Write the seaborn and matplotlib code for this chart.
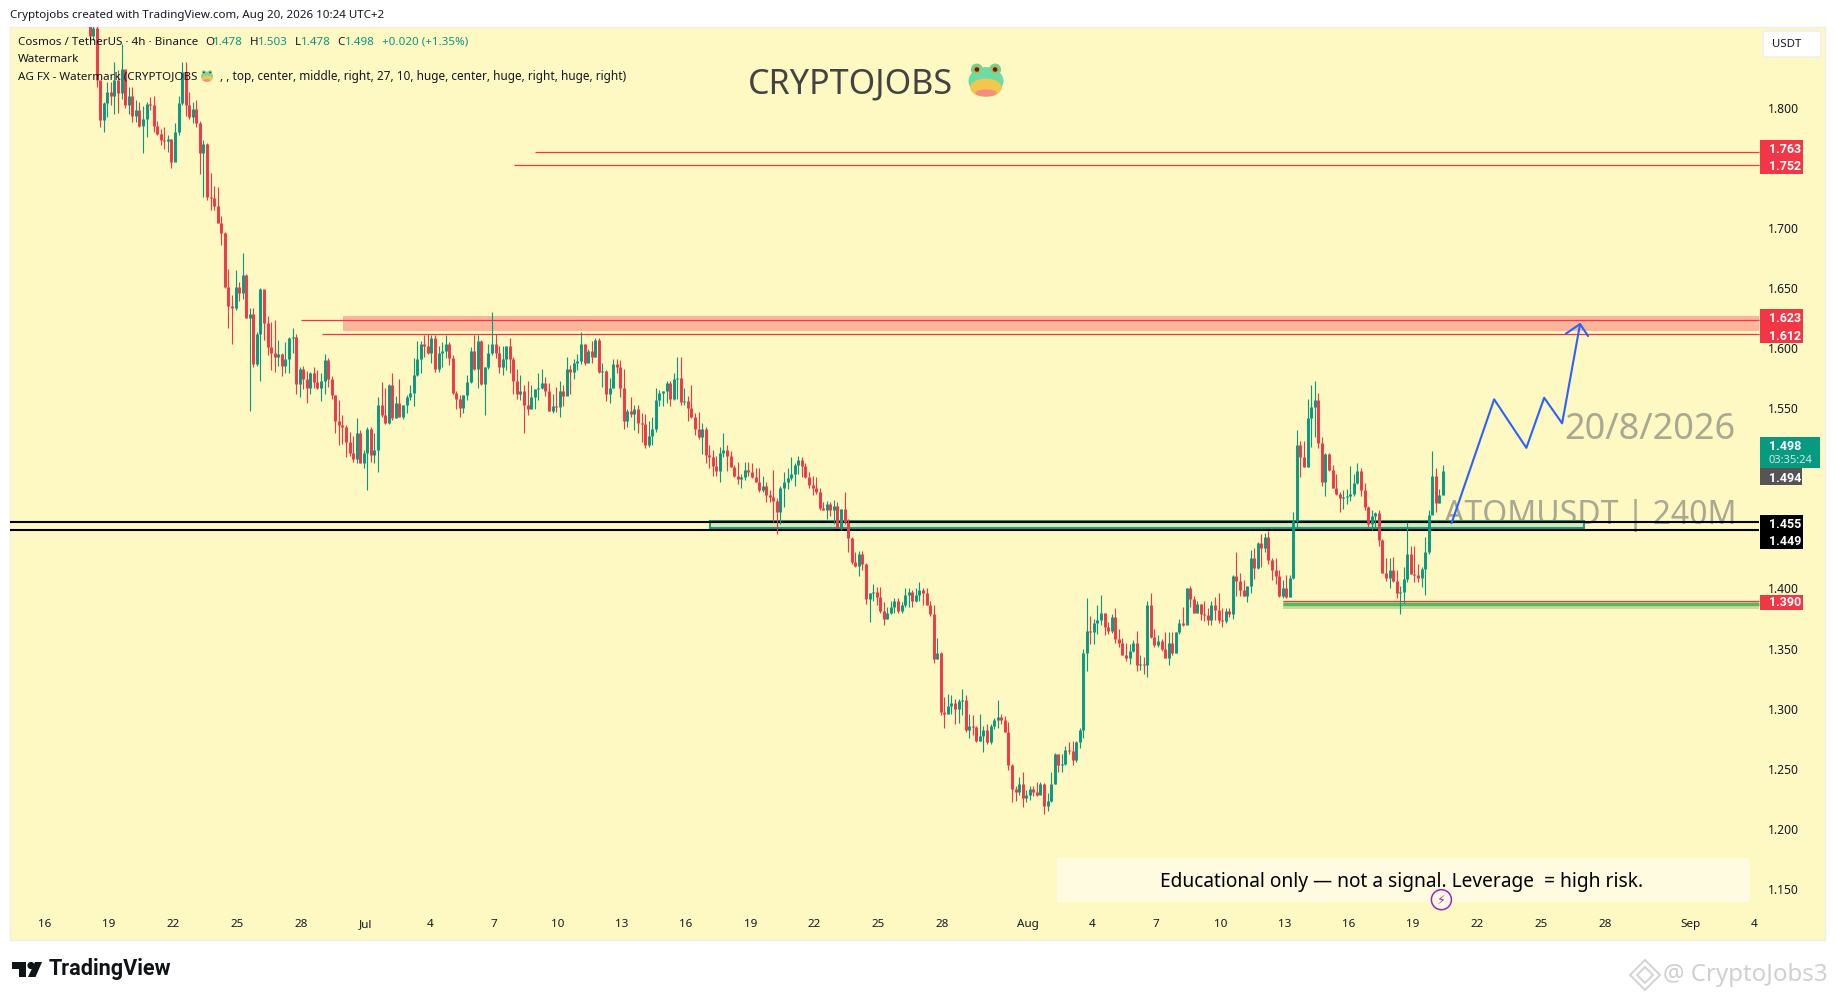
import pandas as pd
import matplotlib
matplotlib.use('Agg')
import matplotlib.pyplot as plt
import matplotlib.dates as mdates
from matplotlib.patches import Rectangle, Circle, Ellipse, Polygon, FancyBboxPatch
from matplotlib.transforms import Affine2D
import seaborn as sns

# =============================================================================
# Data (4h candles, each opens at the previous close)
# =============================================================================
first_open = 1.875
last_bar = '2026-08-20 10:00'

closes = [1.860,1.866,1.823,1.790,1.804,1.813,1.810,1.823,1.812,1.832,
          1.802,1.810,1.793,1.798,1.785,1.791,1.803,1.802,1.785,1.778,
          1.773,1.772,1.774,1.755,1.780,1.804,1.830,1.802,1.792,1.799,
          1.787,1.762,1.770,1.726,1.725,1.718,1.704,1.696,1.651,1.635,
          1.633,1.651,1.646,1.661,1.625,1.628,1.587,1.612,1.649,1.621,
          1.601,1.596,1.593,1.595,1.585,1.591,1.608,1.609,1.570,1.583,
          1.574,1.567,1.579,1.572,1.567,1.573,1.590,1.574,1.561,1.539,
          1.536,1.534,1.522,1.513,1.508,1.529,1.504,1.513,1.533,1.511,
          1.515,1.553,1.544,1.538,1.569,1.542,1.554,1.543,1.553,1.559,
          1.563,1.578,1.591,1.603,1.602,1.596,1.608,1.583,1.596,1.598,
          1.603,1.592,1.563,1.558,1.550,1.561,1.572,1.598,1.583,1.606,
          1.570,1.584,1.596,1.603,1.596,1.584,1.591,1.602,1.591,1.573,
          1.562,1.564,1.553,1.549,1.559,1.566,1.567,1.571,1.564,1.548,
          1.552,1.551,1.564,1.560,1.583,1.580,1.588,1.589,1.603,1.588,
          1.598,1.593,1.607,1.580,1.581,1.562,1.567,1.587,1.584,1.567,
          1.539,1.548,1.545,1.549,1.538,1.537,1.519,1.527,1.533,1.557,
          1.563,1.564,1.571,1.558,1.574,1.575,1.555,1.556,1.550,1.543,
          1.533,1.526,1.533,1.511,1.509,1.502,1.498,1.513,1.515,1.510,
          1.501,1.494,1.491,1.493,1.499,1.497,1.493,1.489,1.482,1.485,
          1.478,1.476,1.473,1.464,1.484,1.489,1.492,1.495,1.503,1.507,
          1.502,1.493,1.486,1.484,1.480,1.467,1.465,1.470,1.465,1.469,
          1.450,1.466,1.455,1.442,1.422,1.419,1.429,1.420,1.391,1.396,
          1.397,1.393,1.381,1.375,1.380,1.385,1.390,1.381,1.386,1.395,
          1.397,1.390,1.395,1.399,1.396,1.386,1.379,1.341,1.346,1.297,
          1.296,1.302,1.305,1.300,1.306,1.307,1.282,1.286,1.285,1.273,
          1.277,1.282,1.272,1.286,1.291,1.293,1.291,1.281,1.253,1.233,
          1.231,1.237,1.226,1.228,1.233,1.231,1.228,1.237,1.219,1.223,
          1.237,1.262,1.253,1.254,1.266,1.265,1.257,1.272,1.282,1.346,
          1.365,1.364,1.371,1.374,1.380,1.368,1.365,1.376,1.358,1.355,
          1.345,1.342,1.348,1.355,1.336,1.337,1.336,1.386,1.360,1.353,
          1.356,1.350,1.342,1.355,1.346,1.364,1.371,1.370,1.400,1.391,
          1.380,1.387,1.379,1.378,1.374,1.386,1.382,1.374,1.373,1.381,
          1.379,1.410,1.406,1.399,1.394,1.402,1.425,1.417,1.438,1.434,
          1.443,1.424,1.415,1.410,1.394,1.400,1.393,1.409,1.456,1.519,
          1.509,1.501,1.542,1.551,1.557,1.521,1.489,1.512,1.499,1.484,
          1.479,1.475,1.476,1.477,1.479,1.488,1.498,1.482,1.468,1.454,
          1.460,1.463,1.440,1.413,1.409,1.415,1.406,1.396,1.397,1.408,
          1.429,1.412,1.411,1.409,1.416,1.430,1.461,1.494,1.471,1.478,1.498]

highs = [1.880,1.885,1.885,1.823,1.805,1.821,1.821,1.838,1.831,1.853,
         1.831,1.817,1.817,1.806,1.805,1.801,1.805,1.809,1.810,1.789,
         1.782,1.784,1.777,1.774,1.787,1.810,1.838,1.838,1.813,1.805,
         1.806,1.789,1.773,1.771,1.746,1.735,1.734,1.710,1.697,1.666,
         1.644,1.665,1.655,1.679,1.662,1.633,1.633,1.613,1.650,1.647,
         1.627,1.622,1.623,1.607,1.596,1.605,1.609,1.617,1.612,1.584,
         1.585,1.581,1.580,1.584,1.582,1.579,1.595,1.592,1.577,1.561,
         1.557,1.544,1.536,1.530,1.527,1.542,1.532,1.515,1.534,1.534,
         1.529,1.559,1.572,1.567,1.570,1.579,1.560,1.574,1.553,1.561,
         1.569,1.592,1.606,1.606,1.611,1.612,1.611,1.611,1.602,1.605,
         1.611,1.605,1.594,1.564,1.561,1.561,1.578,1.601,1.611,1.611,
         1.607,1.584,1.603,1.630,1.612,1.602,1.602,1.602,1.608,1.593,
         1.583,1.578,1.569,1.573,1.569,1.566,1.579,1.583,1.576,1.571,
         1.562,1.568,1.573,1.569,1.593,1.586,1.591,1.595,1.613,1.603,
         1.599,1.606,1.608,1.608,1.588,1.582,1.575,1.591,1.591,1.590,
         1.583,1.549,1.559,1.553,1.553,1.546,1.545,1.539,1.543,1.567,
         1.565,1.564,1.573,1.573,1.579,1.593,1.593,1.567,1.560,1.569,
         1.546,1.547,1.538,1.534,1.519,1.515,1.510,1.518,1.529,1.519,
         1.514,1.503,1.505,1.495,1.505,1.505,1.504,1.500,1.500,1.494,
         1.489,1.482,1.499,1.475,1.485,1.497,1.500,1.509,1.504,1.510,
         1.509,1.504,1.497,1.494,1.493,1.484,1.472,1.473,1.472,1.474,
         1.472,1.466,1.480,1.458,1.443,1.430,1.431,1.431,1.421,1.396,
         1.404,1.401,1.401,1.389,1.385,1.390,1.392,1.392,1.389,1.400,
         1.400,1.399,1.400,1.405,1.400,1.400,1.390,1.386,1.359,1.347,
         1.310,1.312,1.311,1.308,1.308,1.316,1.311,1.296,1.295,1.286,
         1.296,1.286,1.287,1.287,1.292,1.307,1.296,1.294,1.289,1.254,
         1.236,1.243,1.247,1.232,1.236,1.236,1.239,1.239,1.238,1.230,
         1.247,1.263,1.262,1.262,1.269,1.272,1.273,1.273,1.284,1.350,
         1.392,1.377,1.375,1.386,1.395,1.380,1.372,1.379,1.384,1.366,
         1.359,1.355,1.354,1.357,1.365,1.345,1.343,1.390,1.396,1.366,
         1.361,1.358,1.364,1.364,1.364,1.364,1.375,1.385,1.400,1.402,
         1.394,1.390,1.387,1.390,1.384,1.390,1.393,1.396,1.384,1.384,
         1.384,1.411,1.430,1.413,1.407,1.402,1.432,1.434,1.439,1.445,
         1.446,1.448,1.425,1.425,1.415,1.407,1.411,1.411,1.464,1.532,
         1.523,1.523,1.558,1.569,1.573,1.563,1.526,1.513,1.513,1.503,
         1.495,1.480,1.482,1.483,1.502,1.495,1.504,1.500,1.488,1.469,
         1.465,1.464,1.465,1.441,1.425,1.425,1.426,1.415,1.402,1.418,
         1.455,1.435,1.435,1.420,1.418,1.443,1.465,1.514,1.500,1.483,1.503]

lows = [1.857,1.856,1.817,1.784,1.780,1.792,1.802,1.795,1.796,1.807,
        1.800,1.795,1.788,1.788,1.784,1.762,1.776,1.798,1.780,1.777,
        1.769,1.766,1.763,1.750,1.756,1.777,1.802,1.793,1.791,1.787,
        1.784,1.745,1.726,1.723,1.715,1.715,1.704,1.686,1.650,1.617,
        1.603,1.632,1.639,1.641,1.625,1.548,1.584,1.585,1.573,1.607,
        1.594,1.582,1.580,1.585,1.577,1.579,1.579,1.596,1.562,1.559,
        1.566,1.554,1.562,1.567,1.566,1.556,1.562,1.568,1.558,1.529,
        1.519,1.520,1.509,1.510,1.505,1.504,1.504,1.500,1.482,1.505,
        1.504,1.497,1.543,1.537,1.537,1.540,1.542,1.543,1.541,1.546,
        1.557,1.552,1.577,1.579,1.593,1.595,1.588,1.580,1.580,1.584,
        1.592,1.586,1.562,1.549,1.543,1.546,1.557,1.571,1.582,1.567,
        1.569,1.544,1.583,1.594,1.592,1.579,1.578,1.582,1.579,1.562,
        1.558,1.557,1.529,1.544,1.549,1.549,1.557,1.566,1.560,1.548,
        1.546,1.547,1.543,1.552,1.561,1.562,1.574,1.582,1.587,1.586,
        1.589,1.588,1.593,1.579,1.568,1.556,1.554,1.567,1.579,1.559,
        1.533,1.534,1.543,1.532,1.529,1.522,1.517,1.518,1.519,1.530,
        1.552,1.552,1.554,1.552,1.557,1.558,1.553,1.553,1.539,1.542,
        1.528,1.524,1.512,1.504,1.500,1.494,1.494,1.489,1.509,1.498,
        1.501,1.493,1.487,1.484,1.490,1.494,1.492,1.489,1.480,1.480,
        1.472,1.472,1.455,1.445,1.454,1.468,1.483,1.490,1.485,1.495,
        1.493,1.492,1.484,1.478,1.479,1.465,1.465,1.458,1.460,1.454,
        1.450,1.449,1.454,1.430,1.420,1.418,1.410,1.415,1.387,1.372,
        1.390,1.386,1.380,1.370,1.375,1.379,1.380,1.380,1.380,1.385,
        1.385,1.385,1.389,1.390,1.386,1.386,1.377,1.338,1.341,1.295,
        1.284,1.296,1.296,1.287,1.288,1.295,1.281,1.276,1.278,1.272,
        1.273,1.264,1.271,1.271,1.283,1.284,1.287,1.281,1.249,1.222,
        1.223,1.228,1.218,1.222,1.224,1.227,1.227,1.229,1.212,1.215,
        1.222,1.237,1.247,1.247,1.253,1.262,1.253,1.256,1.267,1.276,
        1.331,1.354,1.354,1.362,1.370,1.361,1.362,1.363,1.355,1.351,
        1.345,1.340,1.337,1.347,1.331,1.332,1.329,1.326,1.359,1.351,
        1.351,1.348,1.342,1.336,1.345,1.346,1.362,1.369,1.371,1.385,
        1.380,1.380,1.374,1.373,1.370,1.370,1.374,1.371,1.368,1.371,
        1.376,1.375,1.394,1.394,1.394,1.389,1.396,1.408,1.416,1.418,
        1.430,1.420,1.407,1.404,1.393,1.392,1.392,1.393,1.408,1.451,
        1.493,1.501,1.501,1.518,1.526,1.517,1.485,1.477,1.498,1.484,
        1.478,1.464,1.466,1.470,1.473,1.477,1.487,1.477,1.465,1.450,
        1.449,1.450,1.435,1.413,1.406,1.400,1.405,1.392,1.379,1.388,
        1.405,1.412,1.405,1.405,1.401,1.395,1.429,1.462,1.464,1.471,1.478]

# horizontal levels and where each one starts
red_levels = [1.763, 1.752, 1.623, 1.612, 1.390]
red_starts = ['2026-07-08 22:00', '2026-07-07 23:00', '2026-06-27 23:00',
              '2026-06-28 23:00', '2026-08-12 22:00']
black_levels = [1.455, 1.449]
levels_end = '2026-09-04 05:00'

# zones: (low, high, start, end)
red_zone = [1.6142, 1.6267, '2026-06-29 23:00', levels_end]
teal_zone = [1.4506, 1.4562, '2026-07-17 03:00', '2026-08-27 00:00']
green_zone = [1.3829, 1.3896, '2026-08-12 22:00', levels_end]
green_core = 1.3868

# projected path drawn on the chart
path_times = ['2026-08-20 19:40', '2026-08-22 19:30', '2026-08-24 07:40',
              '2026-08-25 03:40', '2026-08-25 23:50', '2026-08-26 20:00']
path_prices = [1.4543, 1.5574, 1.517, 1.5587, 1.5374, 1.620]
arrow_times = ['2026-08-26 04:00', '2026-08-26 20:00', '2026-08-27 05:00']
arrow_prices = [1.612, 1.620, 1.610]

price_ticks = [1.15, 1.20, 1.25, 1.30, 1.35, 1.40, 1.55, 1.60, 1.65, 1.70, 1.80]
time_ticks = ['2026-06-16', '2026-06-19', '2026-06-22', '2026-06-25', '2026-06-28',
              '2026-07-01', '2026-07-04', '2026-07-07', '2026-07-10', '2026-07-13',
              '2026-07-16', '2026-07-19', '2026-07-22', '2026-07-25', '2026-07-28',
              '2026-08-01', '2026-08-04', '2026-08-07', '2026-08-10', '2026-08-13',
              '2026-08-16', '2026-08-19', '2026-08-22', '2026-08-25', '2026-08-28',
              '2026-09-01', '2026-09-04']
time_labels = ['16', '19', '22', '25', '28', 'Jul', '4', '7', '10', '13', '16', '19',
               '22', '25', '28', 'Aug', '4', '7', '10', '13', '16', '19', '22', '25',
               '28', 'Sep', '4']

GREEN = '#089981'
RED = '#F23645'
PANE = '#FEF8C2'

assert len(closes) == len(highs) == len(lows)

# =============================================================================
# Building the candle tables
# =============================================================================
opens = [first_open] + closes[:-1]
times = pd.date_range(end=last_bar, periods=len(closes), freq='4h')
t_num = mdates.date2num(times)
side = ['up' if c >= o else 'down' for o, c in zip(opens, closes)]
candle = list(range(len(closes)))

wicks = pd.concat([
    pd.DataFrame({'t': t_num, 'price': lows, 'candle': candle, 'side': side}),
    pd.DataFrame({'t': t_num, 'price': highs, 'candle': candle, 'side': side}),
])
bodies = pd.concat([
    pd.DataFrame({'t': t_num, 'price': opens, 'candle': candle, 'side': side}),
    pd.DataFrame({'t': t_num, 'price': closes, 'candle': candle, 'side': side}),
])

def num(stamp):
    return mdates.date2num(pd.Timestamp(stamp))

# =============================================================================
# Figure
# =============================================================================
sns.set_theme(style='white')
plt.rcParams['font.family'] = ['Noto Sans', 'DejaVu Sans']

W, H = 1835, 1000
fig = plt.figure(figsize=(W / 100, H / 100), dpi=100, facecolor='white')
ax = fig.add_axes([10 / W, 1 - 940 / H, 1815 / W, 913 / H], facecolor=PANE)
# pixel coordinates of the picture, y going down
pix = Affine2D().scale(1, -1).translate(0, H)

palette = {'up': GREEN, 'down': RED}
sns.lineplot(data=wicks, x='t', y='price', hue='side', units='candle', estimator=None,
             palette=palette, linewidth=0.8, legend=False, sort=False,
             solid_capstyle='butt', zorder=4, ax=ax)
sns.lineplot(data=bodies, x='t', y='price', hue='side', units='candle', estimator=None,
             palette=palette, linewidth=2.1, legend=False, sort=False,
             solid_capstyle='butt', zorder=4.5, ax=ax)

# zones
ax.add_patch(Rectangle((num(red_zone[2]), red_zone[0]), num(red_zone[3]) - num(red_zone[2]),
                       red_zone[1] - red_zone[0], fc='#FBB59B', ec='none', zorder=1))
ax.add_patch(Rectangle((num(teal_zone[2]), teal_zone[0]), num(teal_zone[3]) - num(teal_zone[2]),
                       teal_zone[1] - teal_zone[0], fc='#D3EBB6', ec='#1F9D84', lw=1.5, zorder=2))
ax.add_patch(Rectangle((num(green_zone[2]), green_zone[0]), num(green_zone[3]) - num(green_zone[2]),
                       green_zone[1] - green_zone[0], fc='#BEE09A', ec='none', zorder=1))
ax.hlines(green_core, num(green_zone[2]), num(green_zone[3]), color='#5CB65A', lw=2.4, zorder=1.2)

# levels
for lev, start in zip(red_levels, red_starts):
    ax.hlines(lev, num(start), num(levels_end), color=RED, lw=0.9, zorder=3)
x_left = num('2026-06-16') + (10 - 45) / 21.37
x_right = num('2026-06-16') + (1825 - 45) / 21.37
ax.hlines(black_levels, x_left, num(levels_end), color='black', lw=1.5, zorder=3)

# watermarks sit under the lines
ax.text(1736, 515.5, 'ATOMUSDT | 240M', transform=pix, ha='right', va='center',
        fontsize=23, color='#A9A892', zorder=1.5)
ax.text(1736, 430, '20/8/2026', transform=pix, ha='right', va='center',
        fontsize=26, color='#A9A892', zorder=1.5)

# projected path
path_df = pd.DataFrame({'t': [num(s) for s in path_times], 'price': path_prices})
arrow_df = pd.DataFrame({'t': [num(s) for s in arrow_times], 'price': arrow_prices})
sns.lineplot(data=path_df, x='t', y='price', sort=False, estimator=None, color='#2962FF',
             linewidth=1.5, zorder=6, ax=ax)
sns.lineplot(data=arrow_df, x='t', y='price', sort=False, estimator=None, color='#2962FF',
             linewidth=1.5, zorder=6, ax=ax)

ax.set_xlim(x_left, x_right)
ax.set_ylim(1.8896 - 940 / 1202, 1.8896 - 27 / 1202)
ax.set_xlabel('')
ax.set_ylabel('')
ax.grid(False)

ax.set_xticks([num(s) for s in time_ticks])
ax.set_xticklabels(time_labels, fontsize=8.4, color='#131722')
for lab in ax.get_xticklabels():
    if lab.get_text() in ('Jul', 'Aug', 'Sep'):
        lab.set_fontweight('medium')
ax.tick_params(axis='x', length=0, pad=-15)
ax.yaxis.tick_right()
ax.set_yticks(price_ticks)
ax.set_yticklabels(['%.3f' % p for p in price_ticks], fontsize=8.7, color='#131722')
ax.tick_params(axis='y', length=0, pad=-41)
for sp in ax.spines.values():
    sp.set_color('#F0EFE6')
    sp.set_linewidth(1)

# =============================================================================
# Header and legend texts
# =============================================================================
def put(x, y, s, **kw):
    kw.setdefault('va', 'center')
    kw.setdefault('fontsize', 8.35)
    kw.setdefault('color', '#131722')
    kw.setdefault('zorder', 20)
    fig.text(x, y, s, transform=pix, **kw)

def box(x0, y0, x1, y1, color, **kw):
    kw.setdefault('zorder', 15)
    fig.add_artist(Rectangle((x0, y0), x1 - x0, y1 - y0, fc=color, ec='none', transform=pix, **kw))

def frog(cx, cy, s):
    # small frog face, s is the width in pixels
    items = [
        Circle((cx - .26 * s, cy - .30 * s), .17 * s, fc='#63D6A0', ec='none'),
        Circle((cx + .26 * s, cy - .30 * s), .17 * s, fc='#63D6A0', ec='none'),
        Ellipse((cx, cy + .03 * s), s, .80 * s, fc='#6BDDA4', ec='none'),
        Ellipse((cx, cy + .22 * s), .90 * s, .52 * s, fc='#F3C64F', ec='none'),
        Ellipse((cx, cy + .37 * s), .62 * s, .20 * s, fc='#F78D7C', ec='none'),
        Circle((cx - .26 * s, cy - .30 * s), .11 * s, fc='#E9A02F', ec='none'),
        Circle((cx + .26 * s, cy - .30 * s), .11 * s, fc='#E9A02F', ec='none'),
        Circle((cx - .26 * s, cy - .30 * s), .065 * s, fc='#333333', ec='none'),
        Circle((cx + .26 * s, cy - .30 * s), .065 * s, fc='#333333', ec='none'),
    ]
    for it in items:
        it.set_transform(pix)
        it.set_zorder(18)
        fig.add_artist(it)

put(10, 15.5, 'Cryptojobs created with TradingView.com, Aug 20, 2026 10:24 UTC+2', fontsize=8.3)

put(18, 42.5, 'Cosmos / TetherUS · 4h · Binance')
for x, s in zip([205, 250, 295, 337.5], ['O', 'H', 'L', 'C']):
    put(x, 42.5, s)
for x, s in zip([213, 258, 301, 345], ['1.478', '1.503', '1.478', '1.498']):
    put(x, 42.5, s, color=GREEN)
put(382, 42.5, '+0.020 (+1.35%)', color=GREEN)
put(18, 59.5, 'Watermark')
put(18, 76.8, 'AG FX - Watermark (CRYPTOJOBS')
frog(207, 76, 12)
put(220, 76.8, ', , top, center, middle, right, 27, 10, huge, center, huge, right, huge, right)',
    fontsize=8.5)

put(748, 84, 'CRYPTOJOBS', fontsize=24.5, color='#434343')
frog(986, 80, 35)

# currency button
fig.add_artist(FancyBboxPatch((1765, 33), 54, 22, boxstyle='round,pad=2,rounding_size=3', fc='white',
                              ec='#EEEEEE', lw=1, transform=pix, zorder=15))
put(1772, 44.5, 'USDT', fontsize=8.2)

# price tags
box(1760, 140, 1803, 173.7, RED)
box(1760, 309, 1803, 342.7, RED)
box(1760, 515, 1803, 548.7, 'black')
box(1760, 595, 1803, 610, RED)
box(1760, 437, 1820, 468, GREEN)
box(1760, 468, 1802, 484.7, '#555555')
for y, s in zip([149.5, 167, 319, 336, 525, 541.5, 603, 447, 478],
                ['1.763', '1.752', '1.623', '1.612', '1.455', '1.449', '1.390', '1.498', '1.494']):
    put(1768.5, y, s, color='white', fontsize=9, fontweight='bold', family=['Roboto'])
put(1768.5, 460.5, '03:35:24', color='#CFE8E0', fontsize=8)

# disclaimer
box(1057, 858, 1750, 902, '#FFFBE1', zorder=8)
put(1402, 881.5, 'Educational only — not a signal. Leverage  = high risk.', ha='center',
    fontsize=13.8, color='black')
fig.add_artist(Circle((1441.4, 899.7), 10, fc='#FFF9E8', ec='#9C27B0', lw=1.1, transform=pix, zorder=19))
put(1441.4, 899.7, '⚡', ha='center', family=['DejaVu Sans'], fontsize=9, color='#9C27B0')

# =============================================================================
# Footer
# =============================================================================
logo = [
    Polygon([(12, 962), (26, 962), (26, 977), (19, 977), (19, 969), (12, 969)], fc='#0F1416', ec='none'),
    Circle((31, 965.5), 3.6, fc='#0F1416', ec='none'),
    Polygon([(35, 962), (42, 962), (35.5, 977), (28, 977)], fc='#0F1416', ec='none'),
]
for it in logo:
    it.set_transform(pix)
    it.set_zorder(18)
    fig.add_artist(it)
put(49, 969.5, 'TradingView', fontsize=15.6, fontweight='bold', color='#0F1416', family=['Roboto'])

for cx, cy, r in [(1645, 975, 15), (1645, 975, 8)]:
    fig.add_artist(Polygon([(cx, cy - r), (cx + r, cy), (cx, cy + r), (cx - r, cy)], fc='none', ec='#D3D3D3',
                           lw=1.4, transform=pix, zorder=18))
put(1663, 975, '@ CryptoJobs3', fontsize=17.3, color='#D0D0D0')

plt.savefig('out.png', dpi=100)
